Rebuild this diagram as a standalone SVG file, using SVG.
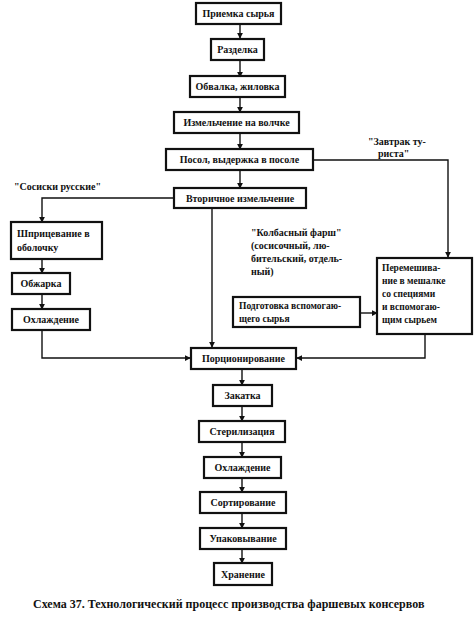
<svg xmlns="http://www.w3.org/2000/svg" width="474" height="617" viewBox="0 0 474 617">
<defs>
<marker id="ah" viewBox="0 0 8 8" refX="7" refY="4" markerWidth="6" markerHeight="6" markerUnits="userSpaceOnUse" orient="auto"><path d="M0,0 L8,4 L0,8 z" fill="#111"/></marker>
<style>
.b{fill:#fff;stroke:#111;stroke-width:2.2}
.t{font-family:"Liberation Serif","DejaVu Serif",serif;font-weight:bold;font-size:10px;fill:#111}
.s{font-size:9.5px}
.m{text-anchor:middle}
.c{fill:none;stroke:#111;stroke-width:1.4}
.a{marker-end:url(#ah)}
.l{font-family:"Liberation Serif","DejaVu Serif",serif;font-weight:bold;font-size:10px;fill:#111}
</style>
</defs>
<rect width="474" height="617" fill="#fff"/>
<g id="connectors">
<line class="c a" x1="240" y1="24" x2="240" y2="38"/>
<line class="c a" x1="240" y1="60" x2="240" y2="77"/>
<line class="c a" x1="240" y1="97" x2="240" y2="112"/>
<line class="c a" x1="240" y1="133" x2="240" y2="149"/>
<line class="c a" x1="240" y1="170" x2="240" y2="188"/>
<polyline class="c a" points="313,160 448,160 448,257"/>
<polyline class="c a" points="174,198 42,198 42,222"/>
<line class="c a" x1="42" y1="259" x2="42" y2="273"/>
<line class="c a" x1="42" y1="294" x2="42" y2="309"/>
<polyline class="c a" points="42,330 42,358 190,358"/>
<line class="c a" x1="212" y1="208" x2="212" y2="347"/>
<line class="c a" x1="360" y1="313" x2="377" y2="313"/>
<polyline class="c a" points="425,334 425,358 297,358"/>
<line class="c a" x1="242" y1="369" x2="242" y2="385"/>
<line class="c a" x1="242" y1="406" x2="242" y2="421"/>
<line class="c a" x1="242" y1="442" x2="242" y2="457"/>
<line class="c a" x1="242" y1="478" x2="242" y2="492"/>
<line class="c a" x1="242" y1="513" x2="242" y2="528"/>
<line class="c a" x1="242" y1="549" x2="242" y2="563"/>
</g>
<g id="n1"><rect class="b" x="196" y="3" width="85" height="21"/><text class="t m" x="238.5" y="17">Приемка сырья</text></g>
<g id="n2"><rect class="b" x="211" y="39" width="53" height="21"/><text class="t m" x="237.5" y="53">Разделка</text></g>
<g id="n3"><rect class="b" x="190" y="76" width="95" height="21"/><text class="t m" x="237.5" y="90">Обвалка, жиловка</text></g>
<g id="n4"><rect class="b" x="174" y="112" width="125" height="21"/><text class="t m" x="236.5" y="126">Измельчение на волчке</text></g>
<g id="n5"><rect class="b" x="166" y="149" width="147" height="21"/><text class="t m" x="239.5" y="163">Посол, выдержка в посоле</text></g>
<g id="n6"><rect class="b" x="174" y="188" width="132" height="20"/><text class="t m" x="240" y="201.5">Вторичное измельчение</text></g>
<g id="n7"><rect class="b" x="11" y="222" width="91" height="37"/><text class="t" x="17" y="237">Шприцевание в</text><text class="t" x="17" y="251">оболочку</text></g>
<g id="n8"><rect class="b" x="12" y="273" width="58" height="21"/><text class="t m" x="41" y="287">Обжарка</text></g>
<g id="n9"><rect class="b" x="12" y="309" width="78" height="21"/><text class="t m" x="51" y="323">Охлаждение</text></g>
<g id="n10"><rect class="b" x="191" y="348" width="105" height="21"/><text class="t m" x="243.5" y="362">Порционирование</text></g>
<g id="n11"><rect class="b" x="213" y="385" width="59" height="21"/><text class="t m" x="242.5" y="399">Закатка</text></g>
<g id="n12"><rect class="b" x="199" y="421" width="86" height="21"/><text class="t m" x="242" y="435">Стерилизация</text></g>
<g id="n13"><rect class="b" x="204" y="457" width="77" height="21"/><text class="t m" x="242.5" y="471">Охлаждение</text></g>
<g id="n14"><rect class="b" x="200" y="492" width="86" height="21"/><text class="t m" x="243" y="506">Сортирование</text></g>
<g id="n15"><rect class="b" x="200" y="528" width="86" height="21"/><text class="t m" x="243" y="542">Упаковывание</text></g>
<g id="n16"><rect class="b" x="214" y="563" width="58" height="22"/><text class="t m" x="243" y="578">Хранение</text></g>
<g id="n17"><rect class="b" x="233" y="297" width="127" height="30"/><text class="t s" x="239" y="309">Подготовка вспомогаю-</text><text class="t s" x="239" y="322">щего сырья</text></g>
<g id="n18"><rect class="b" x="377" y="258" width="95" height="76"/><text class="t s" x="382" y="271">Перемешива-</text><text class="t s" x="382" y="284">ние в мешалке</text><text class="t s" x="382" y="297">со специями</text><text class="t s" x="382" y="310">и вспомогаю-</text><text class="t s" x="382" y="323">щим сырьем</text></g>
<g id="labels">
<text class="l" x="14" y="190">"Сосиски русские"</text>
<text class="l" x="368" y="145">"Завтрак ту-</text>
<text class="l" x="378" y="157">риста"</text>
<text class="l" x="251" y="236">"Колбасный фарш"</text>
<text class="l" x="251" y="249">(сосисочный, лю-</text>
<text class="l" x="251" y="262">бительский, отдель-</text>
<text class="l" x="251" y="275">ный)</text>
<text class="l" x="33" y="608" style="font-size:12px">Схема 37. Технологический процесс производства фаршевых консервов</text>
</g>
</svg>
